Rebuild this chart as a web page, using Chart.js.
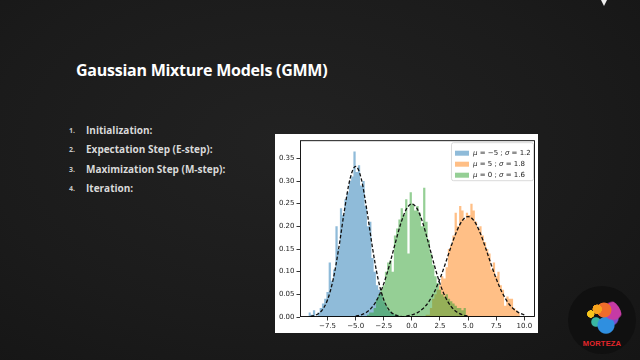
<!DOCTYPE html>
<html>
<head>
<meta charset="utf-8">
<script src="https://cdn.jsdelivr.net/npm/chart.js@4.4.1/dist/chart.umd.min.js"></script>
<style>
  body { margin: 0; width: 640px; height: 360px; overflow: hidden; position: relative;
         background: radial-gradient(ellipse at 45% 40%, #222 0%, #1b1b1b 60%, #151515 100%);
         font-family: "Open Sans", sans-serif; }
  #title { position: absolute; left: 76px; top: 62px; font-size: 16px; line-height: 16px;
           font-weight: 700; color: #fff; white-space: nowrap; letter-spacing: -0.25px; }
  .item { position: absolute; left: 86px; font-size: 10px; line-height: 10px; font-weight: 700;
          color: #d9d9d9; white-space: nowrap; }
  .num { position: absolute; left: 69px; font-size: 7px; line-height: 7px; font-weight: 700;
         color: #c8c8c8; }
  #box { position: absolute; left: 275px; top: 134px; width: 263px; height: 199px; background: #fff; }
  #box canvas { display: block; }
  #logo { position: absolute; left: 568px; top: 286px; width: 68px; height: 68px; border-radius: 50%;
          background: #101010; }
  #head { position: absolute; left: 14px; top: 12px; width: 40px; height: 40px; border-radius: 50% 50% 40% 45%;
          background:
            radial-gradient(circle at 22% 40%, #f7c51c 0 9%, transparent 10%),
            radial-gradient(circle at 38% 28%, #f7a21c 0 12%, transparent 13%),
            radial-gradient(circle at 55% 30%, #ef6c2c 0 20%, transparent 22%),
            radial-gradient(circle at 78% 32%, #c53aa5 0 20%, transparent 24%),
            radial-gradient(circle at 60% 68%, #2f8fe0 0 22%, transparent 25%),
            radial-gradient(circle at 35% 60%, #39b6a3 0 12%, transparent 15%),
            radial-gradient(circle at 72% 50%, #7a4fd0 0 20%, transparent 24%); }
  #brand { position: absolute; left: 0; width: 68px; top: 53px; text-align: center; font-family: "Liberation Sans", sans-serif;
           font-size: 7.5px; font-weight: 700; color: #e3262b; letter-spacing: 0.2px; }
  #mark { position: absolute; left: 601px; top: 0; width: 0; height: 0;
          border-left: 3px solid transparent; border-right: 3px solid transparent; border-top: 6px solid #eee; }
</style>
</head>
<body>
<div id="title">Gaussian Mixture Models (GMM)</div>
<div class="num" style="top:127px">1.</div><div class="item" style="top:125px">Initialization:</div>
<div class="num" style="top:146px">2.</div><div class="item" style="top:144px">Expectation Step (E-step):</div>
<div class="num" style="top:166px">3.</div><div class="item" style="top:164px">Maximization Step (M-step):</div>
<div class="num" style="top:185px">4.</div><div class="item" style="top:183px">Iteration:</div>
<div id="box"><canvas id="chart" width="263" height="199"></canvas></div>
<div id="logo"><div id="head"></div><div id="brand">MORTEZA</div></div>
<div id="mark"></div>
<script>
// histogram bins (left edge of first bin, common bin width) and density heights
const binWidth = 0.2;
const blueStart = -9.2;
const blueHeights = [0.010, 0.005, 0.015, 0.000, 0.010, 0.020, 0.030, 0.040, 0.055, 0.120,
  0.080, 0.105, 0.200, 0.150, 0.240, 0.225, 0.260, 0.275, 0.300, 0.310,
  0.365, 0.320, 0.335, 0.290, 0.300, 0.245, 0.200, 0.210, 0.130, 0.100,
  0.070, 0.060, 0.050, 0.035, 0.025, 0.015, 0.012, 0.008, 0.005, 0.005, 0.000];
const orangeStart = 1.2;
const orangeHeights = [0.005, 0.005, 0.020, 0.040, 0.050, 0.060, 0.070, 0.090, 0.085, 0.110,
  0.150, 0.160, 0.180, 0.230, 0.200, 0.245, 0.235, 0.215, 0.230, 0.225,
  0.250, 0.235, 0.210, 0.195, 0.200, 0.180, 0.165, 0.150, 0.140, 0.105,
  0.120, 0.090, 0.100, 0.070, 0.060, 0.025, 0.045, 0.040, 0.040, 0.020, 0.015, 0.010];
const greenStart = -4.0;
const greenHeights = [0.005, 0.010, 0.010, 0.020, 0.040, 0.050, 0.060, 0.070, 0.100, 0.120,
  0.125, 0.100, 0.180, 0.195, 0.215, 0.240, 0.225, 0.260, 0.140, 0.275,
  0.250, 0.235, 0.245, 0.230, 0.200, 0.285, 0.210, 0.170, 0.140, 0.115,
  0.090, 0.075, 0.060, 0.050, 0.045, 0.050, 0.040, 0.035, 0.030, 0.025,
  0.020, 0.020, 0.015, 0.020, 0.000];

// dashed density curves
const blueCurveX = [-9, -8.5, -8, -7.5, -7, -6.5, -6, -5.5, -5, -4.5, -4, -3.5, -3, -2.5, -2, -1.5, -1, -0.5];
const blueCurveY = [0.0013, 0.0047, 0.0146, 0.0380, 0.0829, 0.1522, 0.2349, 0.3048, 0.3324, 0.3048,
  0.2349, 0.1522, 0.0829, 0.0380, 0.0146, 0.0047, 0.0013, 0.0003];
const greenCurveX = [-5, -4.5, -4, -3.5, -3, -2.5, -2, -1.5, -1, -0.5, 0, 0.5, 1, 1.5, 2, 2.5, 3, 3.5, 4, 4.5, 5];
const greenCurveY = [0.0019, 0.0048, 0.0109, 0.0228, 0.0430, 0.0735, 0.1141, 0.1607, 0.2051, 0.2374, 0.2493,
  0.2374, 0.2051, 0.1607, 0.1141, 0.0735, 0.0430, 0.0228, 0.0109, 0.0048, 0.0019];
const orangeCurveX = [-0.5, 0, 0.5, 1, 1.5, 2, 2.5, 3, 3.5, 4, 4.5, 5, 5.5, 6, 6.5, 7, 7.5, 8, 8.5, 9, 9.5, 10];
const orangeCurveY = [0.0021, 0.0047, 0.0097, 0.0188, 0.0335, 0.0553, 0.0845, 0.1195, 0.1566, 0.1899, 0.2132,
  0.2216, 0.2132, 0.1899, 0.1566, 0.1195, 0.0845, 0.0553, 0.0335, 0.0188, 0.0097, 0.0047];

const seriesLabels = ['μ = −5 ; σ = 1.2', 'μ = 5 ; σ = 1.8', 'μ = 0 ; σ = 1.6'];
const xTicks = [-7.5, -5, -2.5, 0, 2.5, 5, 7.5, 10];
const yTicks = [0, 0.05, 0.10, 0.15, 0.20, 0.25, 0.30, 0.35];

const colors = ['rgba(31,119,180,0.5)', 'rgba(255,127,14,0.5)', 'rgba(44,160,44,0.5)'];

// stepped outline of a histogram: one point per left edge, closed at the last right edge
function steps(start, heights) {
  const pts = heights.map((h, i) => ({ x: start + i * binWidth, y: h }));
  pts.push({ x: start + heights.length * binWidth, y: 0 });
  return pts;
}
function curve(xs, ys) {
  return xs.map((x, i) => ({ x: x, y: ys[i] }));
}
function histSet(label, start, heights, color, order) {
  return { label: label, data: steps(start, heights), stepped: true, fill: 'origin',
           backgroundColor: color, borderWidth: 0, pointRadius: 0, order: order };
}
function curveSet(xs, ys) {
  return { label: '', data: curve(xs, ys), borderColor: '#111', borderWidth: 1.3, borderDash: [3.5, 2],
           cubicInterpolationMode: 'monotone', fill: false, pointRadius: 0, order: 0 };
}
const minus = s => s.replace('-', '\u2212');

const legendBox = {
  id: 'legendBox',
  afterDraw(chart) {
    const ctx = chart.ctx, a = chart.chartArea;
    const w = 82, h = 38, left = a.right - 2 - w, top = a.top + 2;
    ctx.save();
    ctx.fillStyle = 'rgba(255,255,255,0.8)';
    ctx.strokeStyle = '#d0d0d0';
    ctx.lineWidth = 0.8;
    ctx.beginPath();
    ctx.roundRect(left + 0.5, top + 0.5, w, h, 2);
    ctx.fill();
    ctx.stroke();
    seriesLabels.forEach((lab, i) => {
      const cy = top + 11 + i * 11;
      ctx.fillStyle = colors[i];
      ctx.fillRect(left + 4, cy - 2.5, 14, 5);
      let x = left + 22;
      ctx.fillStyle = '#222';
      ctx.textBaseline = 'middle';
      for (const ch of lab) {
        ctx.font = /[μσ]/.test(ch) ? 'italic 7px "DejaVu Sans"' : '7px "DejaVu Sans"';
        ctx.fillText(ch, x, cy);
        x += ctx.measureText(ch).width;
      }
    });
    ctx.restore();
  }
};
const frame = {
  id: 'frame',
  afterDraw(chart) {
    const ctx = chart.ctx, a = chart.chartArea;
    ctx.save();
    ctx.strokeStyle = '#000';
    ctx.lineWidth = 0.9;
    ctx.strokeRect(a.left + 0.5, a.top + 0.5, a.right - a.left - 1, a.bottom - a.top - 1);
    ctx.restore();
  }
};

const tickFont = { family: 'DejaVu Sans', size: 7 };
new Chart(document.getElementById('chart'), {
  type: 'line',
  data: {
    datasets: [
      histSet(seriesLabels[0], blueStart, blueHeights, colors[0], 3),
      histSet(seriesLabels[1], orangeStart, orangeHeights, colors[1], 2),
      histSet(seriesLabels[2], greenStart, greenHeights, colors[2], 1),
      curveSet(blueCurveX, blueCurveY),
      curveSet(orangeCurveX, orangeCurveY),
      curveSet(greenCurveX, greenCurveY)
    ]
  },
  options: {
    responsive: false,
    animation: false,
    events: [],
    layout: { padding: { top: 3, right: 3, left: 0, bottom: 0 } },
    plugins: { legend: { display: false }, tooltip: { enabled: false } },
    scales: {
      x: {
        type: 'linear', min: -9.95, max: 10.95,
        afterBuildTicks: s => { s.ticks = xTicks.map(v => ({ value: v })); },
        afterFit: s => { s.height = 16; },
        grid: { drawOnChartArea: false, drawTicks: true, tickLength: 3.5, tickColor: '#000', tickWidth: 0.8 },
        border: { display: false },
        ticks: { padding: 1, color: '#222', font: tickFont, maxRotation: 0, autoSkip: false,
                 callback: v => minus(v.toFixed(1)) }
      },
      y: {
        type: 'linear', min: 0, max: 0.39,
        afterBuildTicks: s => { s.ticks = yTicks.map(v => ({ value: v })); },
        afterFit: s => { s.width = 25; },
        grid: { drawOnChartArea: false, drawTicks: true, tickLength: 3.5, tickColor: '#000', tickWidth: 0.8 },
        border: { display: false },
        ticks: { padding: 2, color: '#222', font: tickFont, autoSkip: false,
                 callback: v => v.toFixed(2) }
      }
    }
  },
  plugins: [frame, legendBox]
});
</script>
</body>
</html>
